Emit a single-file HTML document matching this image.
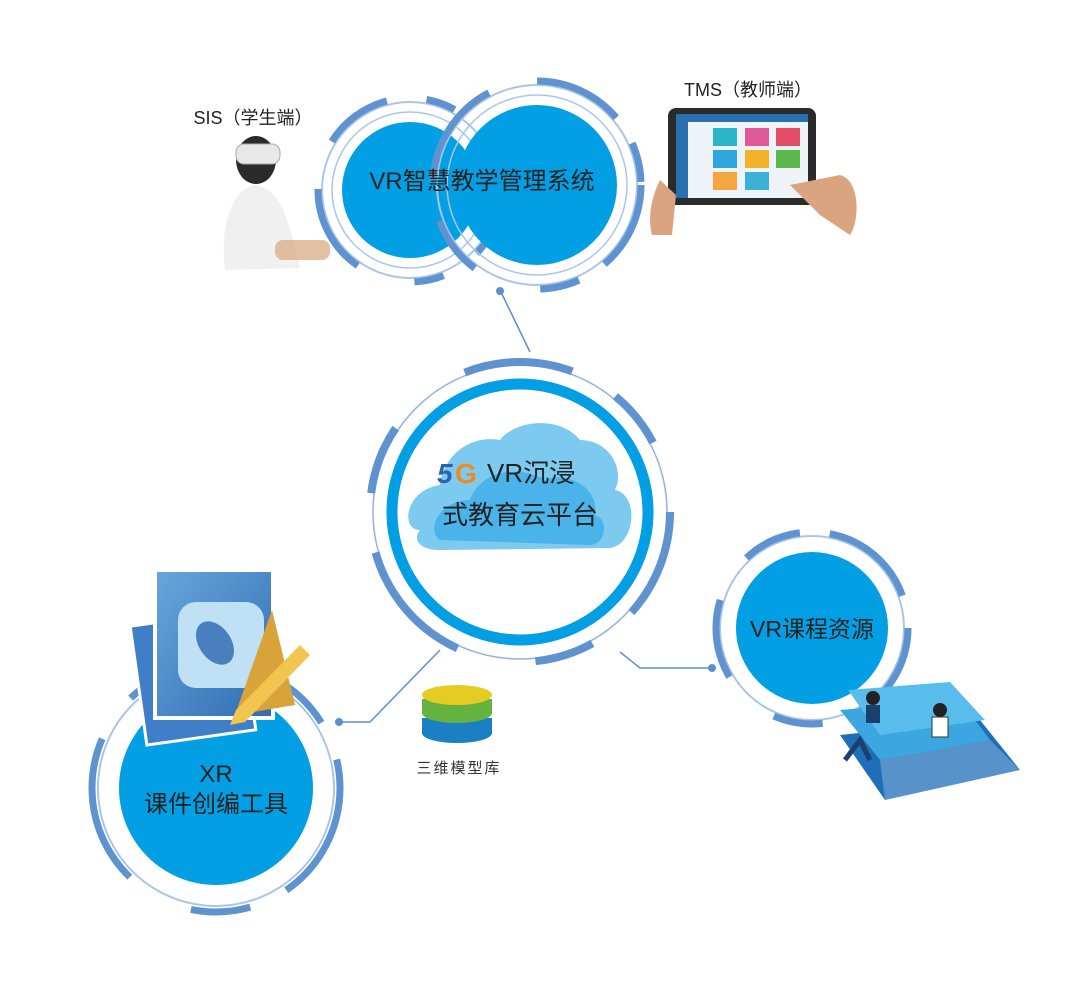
<!DOCTYPE html>
<html><head><meta charset="utf-8"><style>
html,body{margin:0;padding:0;background:#fff;}
svg{display:block;}
text{font-family:"Liberation Sans","Noto Sans CJK SC",sans-serif;}
</style></head><body>
<svg width="1080" height="983" viewBox="0 0 1080 983" xmlns="http://www.w3.org/2000/svg">
<defs>
<linearGradient id="pad" x1="0" y1="0" x2="1" y2="1"><stop offset="0" stop-color="#6aa6dc"/><stop offset="1" stop-color="#2f6db3"/></linearGradient>
</defs>

<!-- connectors -->
<g stroke="#5b8fcf" stroke-width="1.5" fill="none">
<line x1="500" y1="290" x2="530" y2="352"/>
<polyline points="440,650 370,722 340,722"/>
<polyline points="620,652 640,668 712,668"/>
</g>
<g fill="#5b8fcf"><circle cx="500" cy="291" r="4"/><circle cx="339" cy="722" r="4"/><circle cx="712" cy="668" r="4"/></g>

<!-- top left circle -->
<circle cx="410" cy="190" r="88" fill="none" stroke="#a9c6ea" stroke-width="2"/>
<circle cx="410" cy="190" r="78" fill="none" stroke="#a9c6ea" stroke-width="1.5"/>
<circle cx="410" cy="190" r="92" fill="none" stroke="#5e93d0" stroke-width="7" stroke-dasharray="70 40 30 60 90 50" />
<circle cx="410" cy="190" r="68" fill="#039fe4"/>
<!-- top right circle -->
<circle cx="537" cy="185" r="100" fill="none" stroke="#a9c6ea" stroke-width="2"/>
<circle cx="537" cy="185" r="90" fill="none" stroke="#a9c6ea" stroke-width="1.5"/>
<circle cx="537" cy="185" r="104" fill="none" stroke="#5e93d0" stroke-width="7" stroke-dasharray="90 30 40 70 60 40 110 50"/>
<circle cx="537" cy="185" r="80" fill="#039fe4"/>
<text x="482" y="189" font-size="24" fill="#222" text-anchor="middle">VR智慧教学管理系统</text>

<!-- center circle -->
<circle cx="520" cy="512" r="147" fill="none" stroke="#8fb3e0" stroke-width="1.5"/>
<circle cx="520" cy="512" r="150" fill="none" stroke="#5e93d0" stroke-width="8" stroke-dasharray="110 50 60 80 130 60 70 90"/>
<circle cx="520" cy="512" r="128" fill="#fff" stroke="#039fe4" stroke-width="11"/>
<!-- cloud -->
<g>
<path d="M420 530 C400 530 405 490 440 485 C445 450 475 435 500 440 C515 420 560 415 580 440 C610 440 625 470 615 490 C640 495 635 545 610 548 L440 550 C420 550 412 540 420 530Z" fill="#7ccaf0"/>
<path d="M440 540 C425 530 440 500 470 500 C480 470 520 465 545 480 C570 470 600 490 595 515 C610 520 605 545 590 545 Z" fill="#4ab3ea"/>
</g>
<text x="437" y="483" font-size="28" font-weight="bold" fill="#2e62b0" font-style="italic">5</text>
<text x="455" y="483" font-size="28" font-weight="bold" fill="#f08a1c">G</text>
<text x="487" y="482" font-size="26" fill="#222">VR沉浸</text>
<text x="520" y="524" font-size="26" fill="#222" text-anchor="middle">式教育云平台</text>

<!-- right circle -->
<circle cx="812" cy="628" r="92" fill="none" stroke="#a9c6ea" stroke-width="2"/>
<circle cx="812" cy="628" r="96" fill="none" stroke="#5e93d0" stroke-width="7" stroke-dasharray="100 40 50 60 80 50 60 30"/>
<circle cx="812" cy="628" r="76" fill="#039fe4"/>
<text x="812" y="637" font-size="23" fill="#222" text-anchor="middle">VR课程资源</text>

<!-- bottom left circle -->
<circle cx="216" cy="788" r="118" fill="none" stroke="#a9c6ea" stroke-width="2"/>
<circle cx="216" cy="788" r="124" fill="none" stroke="#5e93d0" stroke-width="7" stroke-dasharray="120 40 60 70 150 50 60 40"/>
<circle cx="216" cy="788" r="97" fill="#039fe4"/>
<text x="216" y="782" font-size="24" fill="#222" text-anchor="middle">XR</text>
<text x="216" y="812" font-size="24" fill="#222" text-anchor="middle">课件创编工具</text>

<!-- XR icon -->
<rect x="138" y="618" width="110" height="120" fill="#3f7fc8" stroke="#fff" stroke-width="3" transform="rotate(-8 193 678)"/>
<rect x="155" y="570" width="118" height="148" fill="url(#pad)" stroke="#fff" stroke-width="4"/>
<rect x="178" y="602" width="86" height="86" rx="18" fill="#bfe0f5"/>
<ellipse cx="215" cy="643" rx="16" ry="24" fill="#4a7fbf" transform="rotate(-35 215 643)"/>
<polygon points="272,610 295,705 235,715" fill="#d8a33a"/>
<polygon points="300,645 310,655 245,722 230,725 236,710" fill="#f1c550"/>

<!-- 3D DB -->
<ellipse cx="457" cy="733" rx="35" ry="10" fill="#1b7fc4"/>
<rect x="422" y="718" width="70" height="15" fill="#1b7fc4"/>
<ellipse cx="457" cy="713" rx="35" ry="10" fill="#65b33f"/>
<rect x="422" y="699" width="70" height="14" fill="#65b33f"/>
<ellipse cx="457" cy="695" rx="35" ry="10" fill="#e6cc22"/>
<text x="459" y="773" font-size="15" fill="#333" text-anchor="middle" letter-spacing="2">三维模型库</text>

<!-- SIS -->
<text x="253" y="124" font-size="18" fill="#222" text-anchor="middle">SIS（学生端）</text>
<path d="M225 270 C220 230 230 190 255 185 C285 190 290 230 300 268 Z" fill="#f0f0f0"/>
<ellipse cx="256" cy="160" rx="20" ry="24" fill="#2b2b2b"/>
<rect x="236" y="144" width="44" height="20" rx="8" fill="#e8e8e8" stroke="#aaa"/>
<rect x="275" y="240" width="55" height="20" rx="8" fill="#d9b08c" opacity="0.8"/>

<!-- TMS -->
<text x="748" y="96" font-size="18" fill="#222" text-anchor="middle">TMS（教师端）</text>
<rect x="668" y="108" width="148" height="97" rx="8" fill="#2b2b2b"/>
<rect x="676" y="114" width="132" height="84" fill="#eef3f8"/>
<rect x="676" y="114" width="132" height="8" fill="#2a6fb0"/>
<rect x="676" y="122" width="12" height="76" fill="#2a6fb0"/>
<g>
<rect x="713" y="128" width="24" height="18" fill="#2bb5c8"/><rect x="745" y="128" width="24" height="18" fill="#e05a9a"/><rect x="776" y="128" width="24" height="18" fill="#e44c68"/>
<rect x="713" y="150" width="24" height="18" fill="#2ea5dd"/><rect x="745" y="150" width="24" height="18" fill="#f0b32a"/><rect x="776" y="150" width="24" height="18" fill="#5cb84d"/>
<rect x="713" y="172" width="24" height="18" fill="#f4a640"/><rect x="745" y="172" width="24" height="18" fill="#3ab0d6"/>
</g>
<path d="M790 185 L840 175 C860 180 860 220 850 235 L820 215 Z" fill="#d9a47f"/>
<path d="M660 180 C650 200 648 220 652 235 L672 235 L676 195 Z" fill="#d9a47f"/>

<!-- books -->
<path d="M840 735 L980 720 L1020 770 L885 800 Z" fill="#1f6fb8"/>
<path d="M840 710 L960 700 L990 740 L880 760 Z" fill="#3ca6e0"/>
<path d="M848 690 L950 682 L985 720 L880 735 Z" fill="#58bdec"/>
<path d="M880 760 L990 740 L1020 770 L885 800 Z" fill="#fff" opacity="0.25"/>
<circle cx="873" cy="698" r="7" fill="#222"/>
<rect x="866" y="705" width="14" height="18" fill="#1d3f6e"/>
<circle cx="940" cy="710" r="7" fill="#222"/>
<rect x="932" y="717" width="16" height="20" fill="#fff" stroke="#333"/>
<path d="M845 760 L860 740 L870 760" stroke="#1d3f6e" stroke-width="5" fill="none"/>
</svg>
</body></html>
